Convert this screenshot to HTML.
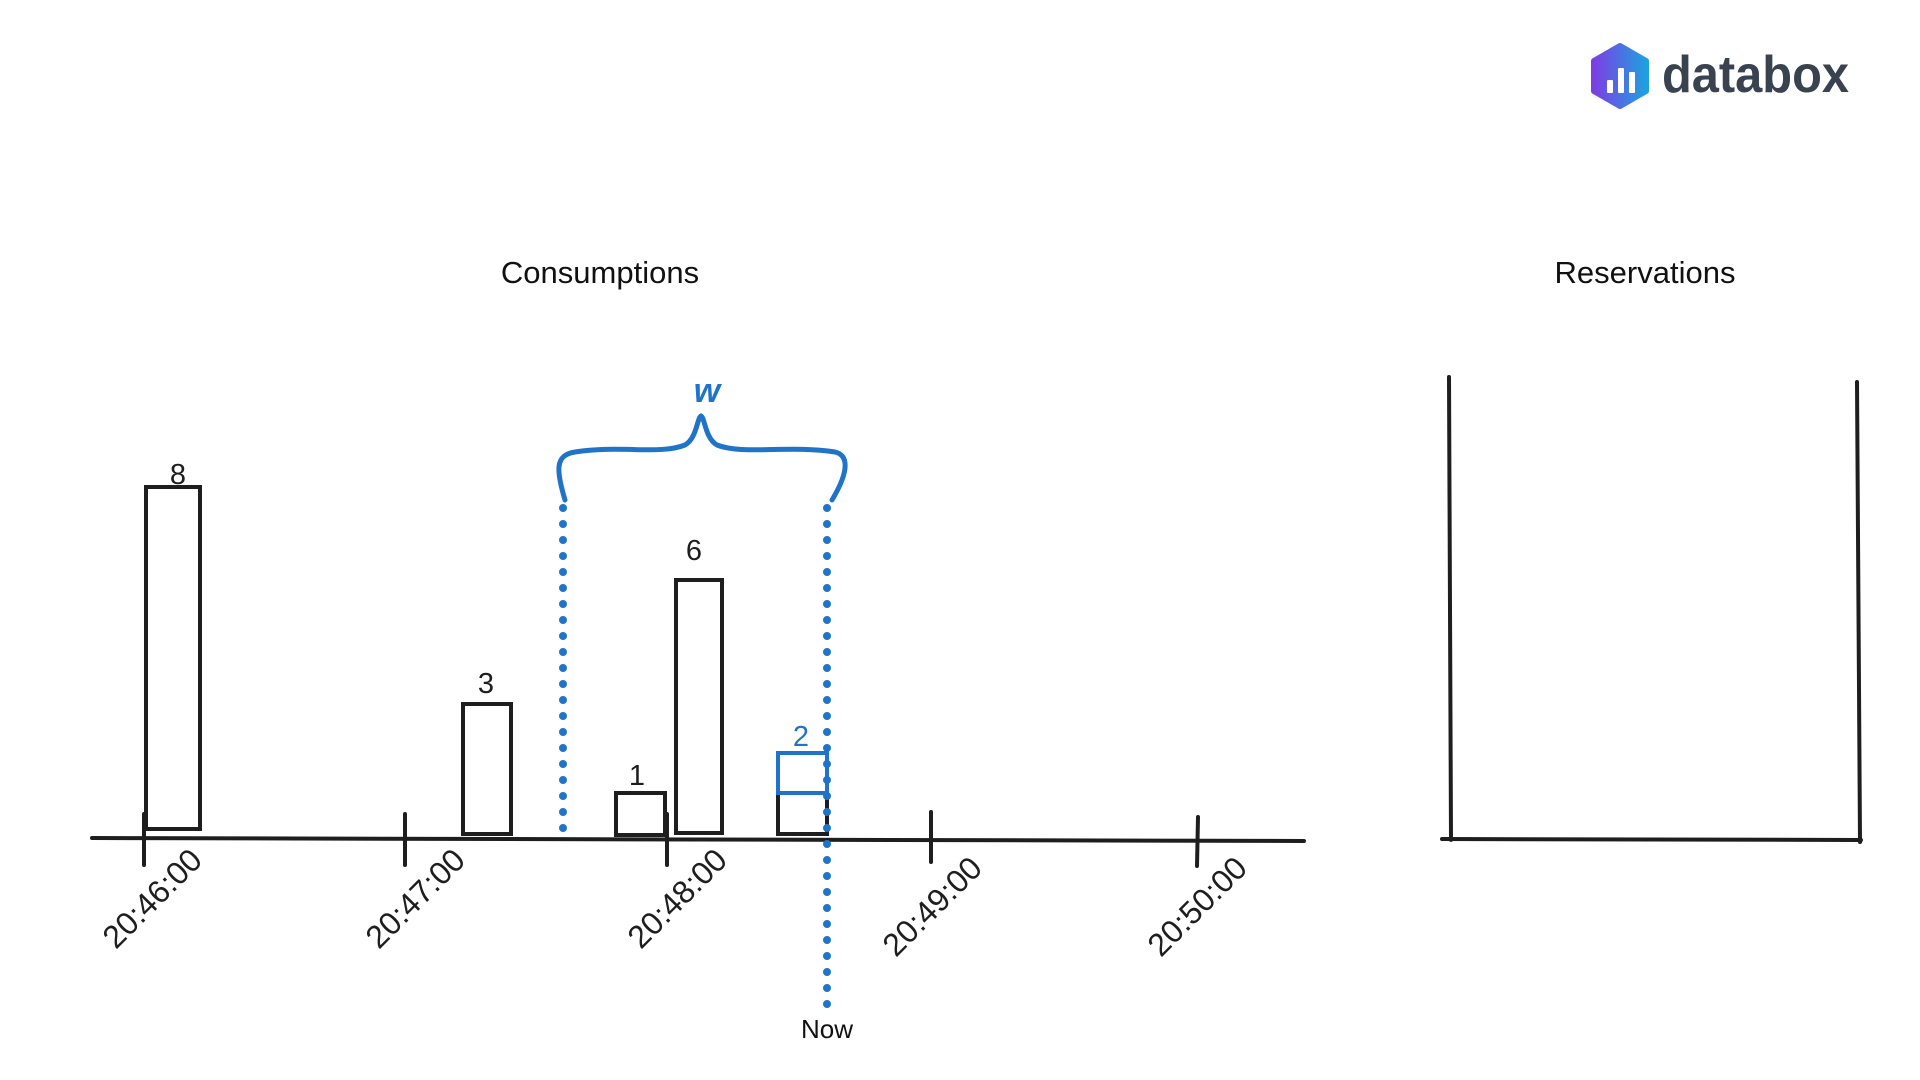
<!DOCTYPE html>
<html><head><meta charset="utf-8"><style>
html,body{margin:0;padding:0;background:#fff;}
svg{display:block;}
</style></head><body>
<svg width="1920" height="1080" viewBox="0 0 1920 1080" xmlns="http://www.w3.org/2000/svg">
<defs>
<linearGradient id="g" x1="0" x2="1" y1="0" y2="0"><stop offset="0" stop-color="#7b3fe4"/><stop offset="1" stop-color="#1fa0e0"/></linearGradient>
</defs>
<!-- logo -->
<polygon points="1620,46 1646,61 1646,91 1620,106 1594,91 1594,61" fill="url(#g)" stroke="url(#g)" stroke-width="6" stroke-linejoin="round"/>
<rect x="1607" y="80" width="6" height="13" fill="#fff" rx="1"/>
<rect x="1618" y="68" width="6" height="25" fill="#fff" rx="1"/>
<rect x="1629" y="72" width="6" height="21" fill="#fff" rx="1"/>
<text x="1662" y="92" font-family="Liberation Sans, sans-serif" font-size="52" font-weight="bold" fill="#39434f" textLength="187" lengthAdjust="spacingAndGlyphs">databox</text>
<!-- titles -->
<text x="600" y="283" text-anchor="middle" font-family="Liberation Sans, sans-serif" font-size="31" fill="#111">Consumptions</text>
<text x="1645" y="283" text-anchor="middle" font-family="Liberation Sans, sans-serif" font-size="31" fill="#111">Reservations</text>
<g stroke="#1e1e1e" stroke-width="4" fill="none" stroke-linecap="round">
<path d="M92,838 L1304,841"/>
<path d="M144,814 L144,865 M405,814 L405,865 M667,814 L667,865 M931,812 L931,862 M1198,817 L1197,866"/>
<rect x="146" y="487" width="54" height="342"/>
<rect x="463" y="704" width="48" height="130"/>
<rect x="616" y="793" width="49" height="42"/>
<rect x="676" y="580" width="46" height="253"/>
<rect x="778" y="793" width="49" height="41"/>
<path d="M1449,377 L1451,840 M1857,382 L1860,842 M1442,839 L1861,840"/>
</g>
<rect x="778" y="753" width="49" height="40" fill="none" stroke="#1f73c8" stroke-width="4"/>
<g font-family="Liberation Sans, sans-serif" font-size="29" fill="#1e1e1e" text-anchor="middle">
<text x="178" y="484">8</text>
<text x="486" y="693">3</text>
<text x="637" y="785">1</text>
<text x="694" y="560">6</text>
<text x="801" y="746" fill="#1f73c8">2</text>
</g>
<g stroke="#1f73c8" stroke-width="8" stroke-linecap="round" stroke-dasharray="0 16">
<path d="M563,508 L563,835"/>
<path d="M827,508 L827,1007"/>
</g>
<path d="M565,500 C556,470 555,455 575,452 C620,445 660,455 685,445 C697,438 697,418 701,416 C705,418 705,438 717,445 C742,455 790,445 835,452 C848,455 850,470 832,500" fill="none" stroke="#1f73c8" stroke-width="5" stroke-linecap="round"/>
<text x="707" y="402" text-anchor="middle" font-family="Liberation Sans, sans-serif" font-size="34" font-weight="bold" font-style="italic" fill="#1f73c8">w</text>
<text x="827" y="1038" text-anchor="middle" font-family="Liberation Sans, sans-serif" font-size="26" fill="#111">Now</text>
<g font-family="Liberation Sans, sans-serif" font-size="32" fill="#1e1e1e" text-anchor="end">
<text transform="translate(204,862) rotate(-45)">20:46:00</text>
<text transform="translate(467,862) rotate(-45)">20:47:00</text>
<text transform="translate(729,862) rotate(-45)">20:48:00</text>
<text transform="translate(984,870) rotate(-45)">20:49:00</text>
<text transform="translate(1249,870) rotate(-45)">20:50:00</text>
</g>
</svg>
</body></html>
